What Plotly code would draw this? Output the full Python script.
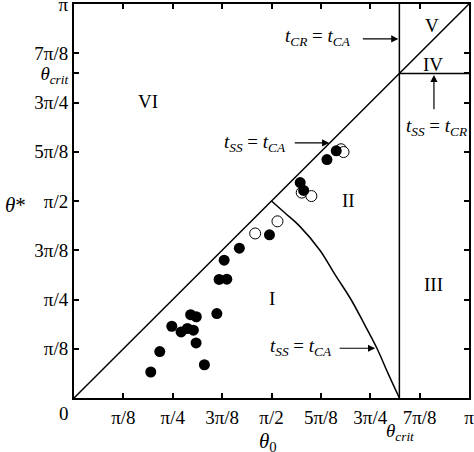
import numpy as np
import plotly.graph_objects as go

U = np.pi / 8  # values below are read in units of pi/8

theta_crit = 6.59

# measured points (theta0, theta*)
filled_x = [1.555, 1.737, 1.981, 2.169, 2.297, 2.418, 2.362, 2.477, 2.473, 2.641,
            2.893, 2.939, 3.095, 3.041, 3.349, 3.959, 4.581, 4.652, 5.123, 5.311]
filled_y = [0.528, 0.943, 1.457, 1.341, 1.411, 1.376, 1.691, 1.650, 1.118, 0.675,
            1.715, 2.407, 2.413, 2.799, 3.043, 3.313, 4.374, 4.215, 4.841, 5.018]
open_x = [3.669, 4.121, 4.612, 4.808, 5.408, 5.459]
open_y = [3.341, 3.587, 4.171, 4.100, 5.051, 4.994]

# t_SS = t_CA boundary between regions I and II
curve_x = [4.0, 4.28, 4.56, 4.98, 5.29, 5.61, 5.88, 6.14, 6.36, theta_crit]
curve_y = [4.0, 3.75, 3.5, 3.0, 2.5, 2.0, 1.5, 1.0, 0.5, 0.0]

tick_vals = [1, 2, 3, 4, 5, 6, 7, 8]
tick_text = ["π/8", "π/4", "3π/8", "π/2", "5π/8", "3π/4", "7π/8", "π"]

FONT = "Liberation Serif, Times New Roman, serif"
LINE = dict(color="black", width=1.5)


def r(v):
    return [a * U for a in v]


fig = go.Figure()
fig.add_trace(go.Scatter(x=r([0, 8]), y=r([0, 8]), mode="lines", line=LINE))
fig.add_trace(go.Scatter(x=r([theta_crit, theta_crit]), y=r([0, 8]), mode="lines", line=LINE))
fig.add_trace(go.Scatter(x=r([theta_crit, 8]), y=r([theta_crit, theta_crit]), mode="lines", line=LINE))
fig.add_trace(go.Scatter(x=r(curve_x), y=r(curve_y), mode="lines",
                         line=dict(color="black", width=1.5, shape="spline")))
fig.add_trace(go.Scatter(x=r(open_x), y=r(open_y), mode="markers",
                         marker=dict(size=11, color="white", line=dict(color="black", width=1))))
fig.add_trace(go.Scatter(x=r(filled_x), y=r(filled_y), mode="markers",
                         marker=dict(size=11, color="black", line=dict(color="black", width=0))))

ann = []


def label(x, y, text, size=19):
    ann.append(dict(x=x * U, y=y * U, xref="x", yref="y", text=text, showarrow=False,
                    xanchor="center", yanchor="middle",
                    font=dict(family=FONT, size=size, color="black")))


def arrow(x0, y0, x1, y1):
    ann.append(dict(x=x1 * U, y=y1 * U, ax=x0 * U, ay=y0 * U, xref="x", yref="y",
                    axref="x", ayref="y", text="", showarrow=True, arrowhead=2,
                    arrowsize=1.2, arrowwidth=1.2, arrowcolor="black"))


label(1.50, 6.03, "VI")
label(7.26, 7.57, "V")
label(7.28, 6.78, "IV")
label(7.28, 2.31, "III")
label(5.55, 4.02, "II")
label(4.01, 2.03, "I")

label(4.95, 7.33, "<i>t<sub>CR</sub></i> = <i>t<sub>CA</sub></i>", 19)
arrow(5.82, 7.29, 6.57, 7.29)
label(3.67, 5.18, "<i>t<sub>SS</sub></i> = <i>t<sub>CA</sub></i>", 19)
arrow(4.44, 5.18, 5.17, 5.18)
label(7.34, 5.50, "<i>t<sub>SS</sub></i> = <i>t<sub>CR</sub></i>", 19)
arrow(7.29, 5.83, 7.29, 6.56)
label(4.60, 1.03, "<i>t<sub>SS</sub></i> = <i>t<sub>CA</sub></i>", 19)
arrow(5.35, 1.01, 6.10, 1.01)


def paper(x, y, text, size=19):
    ann.append(dict(x=x, y=y, xref="paper", yref="paper", text=text, showarrow=False,
                    xanchor="center", yanchor="middle",
                    font=dict(family=FONT, size=size, color="black")))


paper(-0.149, 0.49, "<i>θ</i>*", 21)
paper(0.4915, -0.112, "<i>θ</i><sub>0</sub>", 21)
paper(0.826, -0.087, "<i>θ<sub>crit</sub></i>", 19)
paper(-0.025, -0.039, "0", 19)

axis = dict(range=[0, np.pi], showgrid=False, zeroline=False, showline=True,
            linecolor="black", linewidth=2, mirror="ticks", ticks="inside",
            ticklen=5, tickwidth=1.5, tickcolor="black", automargin=False,
            ticklabeloverflow="allow",
            tickfont=dict(family=FONT, size=19, color="black"))

fig.update_layout(
    width=474, height=452,
    margin=dict(l=74, r=5, t=4, b=54),
    plot_bgcolor="white", paper_bgcolor="white",
    showlegend=False,
    annotations=ann,
    xaxis=dict(axis, tickvals=r(tick_vals), ticktext=tick_text, ticklabelstandoff=1),
    yaxis=dict(axis, tickvals=r(tick_vals[:-1] + [theta_crit, 8]),
               ticktext=tick_text[:-1] + ["<i>θ<sub>crit</sub></i>", "π"]),
)

# the page's default body margin would push the figure off the 474x452 window
fig.write_html("out.html", config={"displayModeBar": False},
               post_script="document.body.style.margin='0';")
